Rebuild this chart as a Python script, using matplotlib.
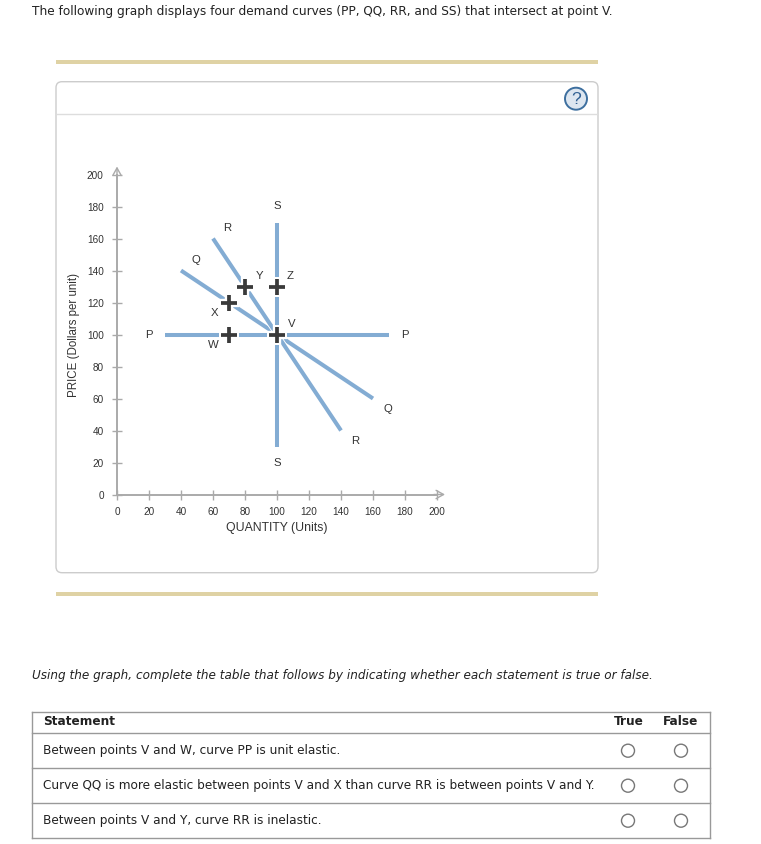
import matplotlib
matplotlib.use('Agg')
import matplotlib.pyplot as plt
import matplotlib.patheffects as pe
from matplotlib.patches import FancyBboxPatch, Circle, Rectangle

W, H = 761, 845

# curves
pp_q = [30, 170]
pp_p = [100, 100]
qq_q = [40, 160]
qq_p = [140, 60]
rr_q = [60, 140]
rr_p = [160, 40]
ss_q = [100, 100]
ss_p = [170, 30]

# points on the graph
point_q = [100, 70, 70, 80, 100]
point_p = [100, 100, 120, 130, 130]

# curve and point letters
label_text = ['P', 'P', 'Q', 'Q', 'R', 'R', 'S', 'S', 'V', 'W', 'X', 'Y', 'Z']
label_q = [20, 180, 49, 169, 69, 149, 100, 100, 109, 60, 61, 89, 108]
label_p = [100, 100, 147, 54, 167, 34, 181, 20, 107, 94, 114, 137, 137]

ticks = list(range(0, 201, 20))

title = 'The following graph displays four demand curves (PP, QQ, RR, and SS) that intersect at point V.'
prompt = 'Using the graph, complete the table that follows by indicating whether each statement is true or false.'
statements = ['Between points V and W, curve PP is unit elastic.',
              'Curve QQ is more elastic between points V and X than curve RR is between points V and Y.',
              'Between points V and Y, curve RR is inelastic.']

fig = plt.figure(figsize=(W / 100, H / 100), dpi=100, facecolor='white')

# page layer, drawn in pixels from the top left
page = fig.add_axes([0, 0, 1, 1])
page.set_xlim(0, W)
page.set_ylim(H - 0.7, -0.7)
page.axis('off')

page.text(32, 11, title, fontsize=8.7, family='DejaVu Sans', color='#222222', va='center')
page.add_patch(Rectangle((56, 60), 542, 4, fc='#dfd2a4', ec='none'))
page.add_patch(Rectangle((56, 592), 542, 4, fc='#dfd2a4', ec='none'))
page.add_patch(FancyBboxPatch((60, 86), 534, 483, boxstyle='round,pad=4,rounding_size=6',
                              fc='white', ec='#cccccc', lw=1))
page.plot([57, 597], [114, 114], color='#dddddd', lw=1)
page.add_patch(Circle((576, 99), 11, fc='#dde6f0', ec='#3d6f9f', lw=1.4))
page.text(576, 99, '?', fontsize=12.5, family='Liberation Sans', color='#2f5f92', ha='center', va='center')

page.text(32, 675, prompt, fontsize=8.65, family='DejaVu Sans', style='italic', color='#222222', va='center')

# table
table_y = [712, 733, 768, 803, 838]
for y in table_y:
    page.plot([32, 710], [y, y], color='#999999', lw=1)
page.plot([32, 32], [712, 838], color='#999999', lw=1)
page.plot([710, 710], [712, 838], color='#999999', lw=1)
page.text(43, 721, 'Statement', fontsize=8.7, family='DejaVu Sans', weight='bold', color='#222222', va='center')
page.text(629, 721, 'True', fontsize=8.7, family='DejaVu Sans', weight='bold', color='#222222', ha='center', va='center')
page.text(681, 721, 'False', fontsize=8.7, family='DejaVu Sans', weight='bold', color='#222222', ha='center', va='center')
for ii in range(3):
    y = (table_y[ii + 1] + table_y[ii + 2]) / 2
    page.text(43, y - 1, statements[ii], fontsize=8.7, family='DejaVu Sans', color='#222222', va='center')
    page.add_patch(Circle((628, y + 0.5), 6.5, fc='white', ec='#777777', lw=1))
    page.add_patch(Circle((681, y + 0.5), 6.5, fc='white', ec='#777777', lw=1))

# graph
ax = fig.add_axes([117 / W, (H - 495.5) / H, 320 / W, 320 / H])
ax.patch.set_alpha(0)
ax.set_xlim(0, 200)
ax.set_ylim(0, 200)
for side in ['top', 'right']:
    ax.spines[side].set_visible(False)
for side in ['left', 'bottom']:
    ax.spines[side].set_color('#aaaaaa')
    ax.spines[side].set_linewidth(1.4)
ax.set_xticks(ticks)
ax.set_yticks(ticks)
ax.tick_params(direction='inout', length=7, width=1, color='#aaaaaa', labelsize=7.2,
               labelcolor='#333333')
ax.tick_params(axis='x', pad=5)
ax.tick_params(axis='y', pad=6)
for lab in ax.get_xticklabels() + ax.get_yticklabels():
    lab.set_family('Liberation Sans')
chevron = dict(arrowstyle='->,head_length=0.45,head_width=0.25', mutation_scale=12,
               color='#aaaaaa', lw=1, shrinkA=0, shrinkB=0)
ax.annotate('', xy=(205, 0), xytext=(198, 0), annotation_clip=False, arrowprops=chevron)
ax.annotate('', xy=(0, 205), xytext=(0, 198), annotation_clip=False, arrowprops=chevron)
ax.set_xlabel('QUANTITY (Units)', fontsize=8.8, family='Liberation Sans', color='#333333', labelpad=3.5)
ax.set_ylabel('PRICE (Dollars per unit)', fontsize=8.3, family='Liberation Sans', color='#333333', labelpad=5)

for q, p in [(qq_q, qq_p), (rr_q, rr_p), (pp_q, pp_p), (ss_q, ss_p)]:
    ax.plot(q, p, color='#83acd3', lw=2.9, solid_capstyle='butt',
            path_effects=[pe.Stroke(linewidth=4.2, foreground='white'), pe.Normal()], zorder=3)

ax.plot(point_q, point_p, ls='none', marker='+', ms=14, mew=6, color='white', zorder=4)
ax.plot(point_q, point_p, ls='none', marker='+', ms=11, mew=2.7, color='#3a3a3a', zorder=5)

for ii in range(len(label_text)):
    ax.text(label_q[ii], label_p[ii], label_text[ii], fontsize=8.2, family='Liberation Sans',
            color='#333333', ha='center', va='center', zorder=6)

fig.savefig('out.png', dpi=100)
